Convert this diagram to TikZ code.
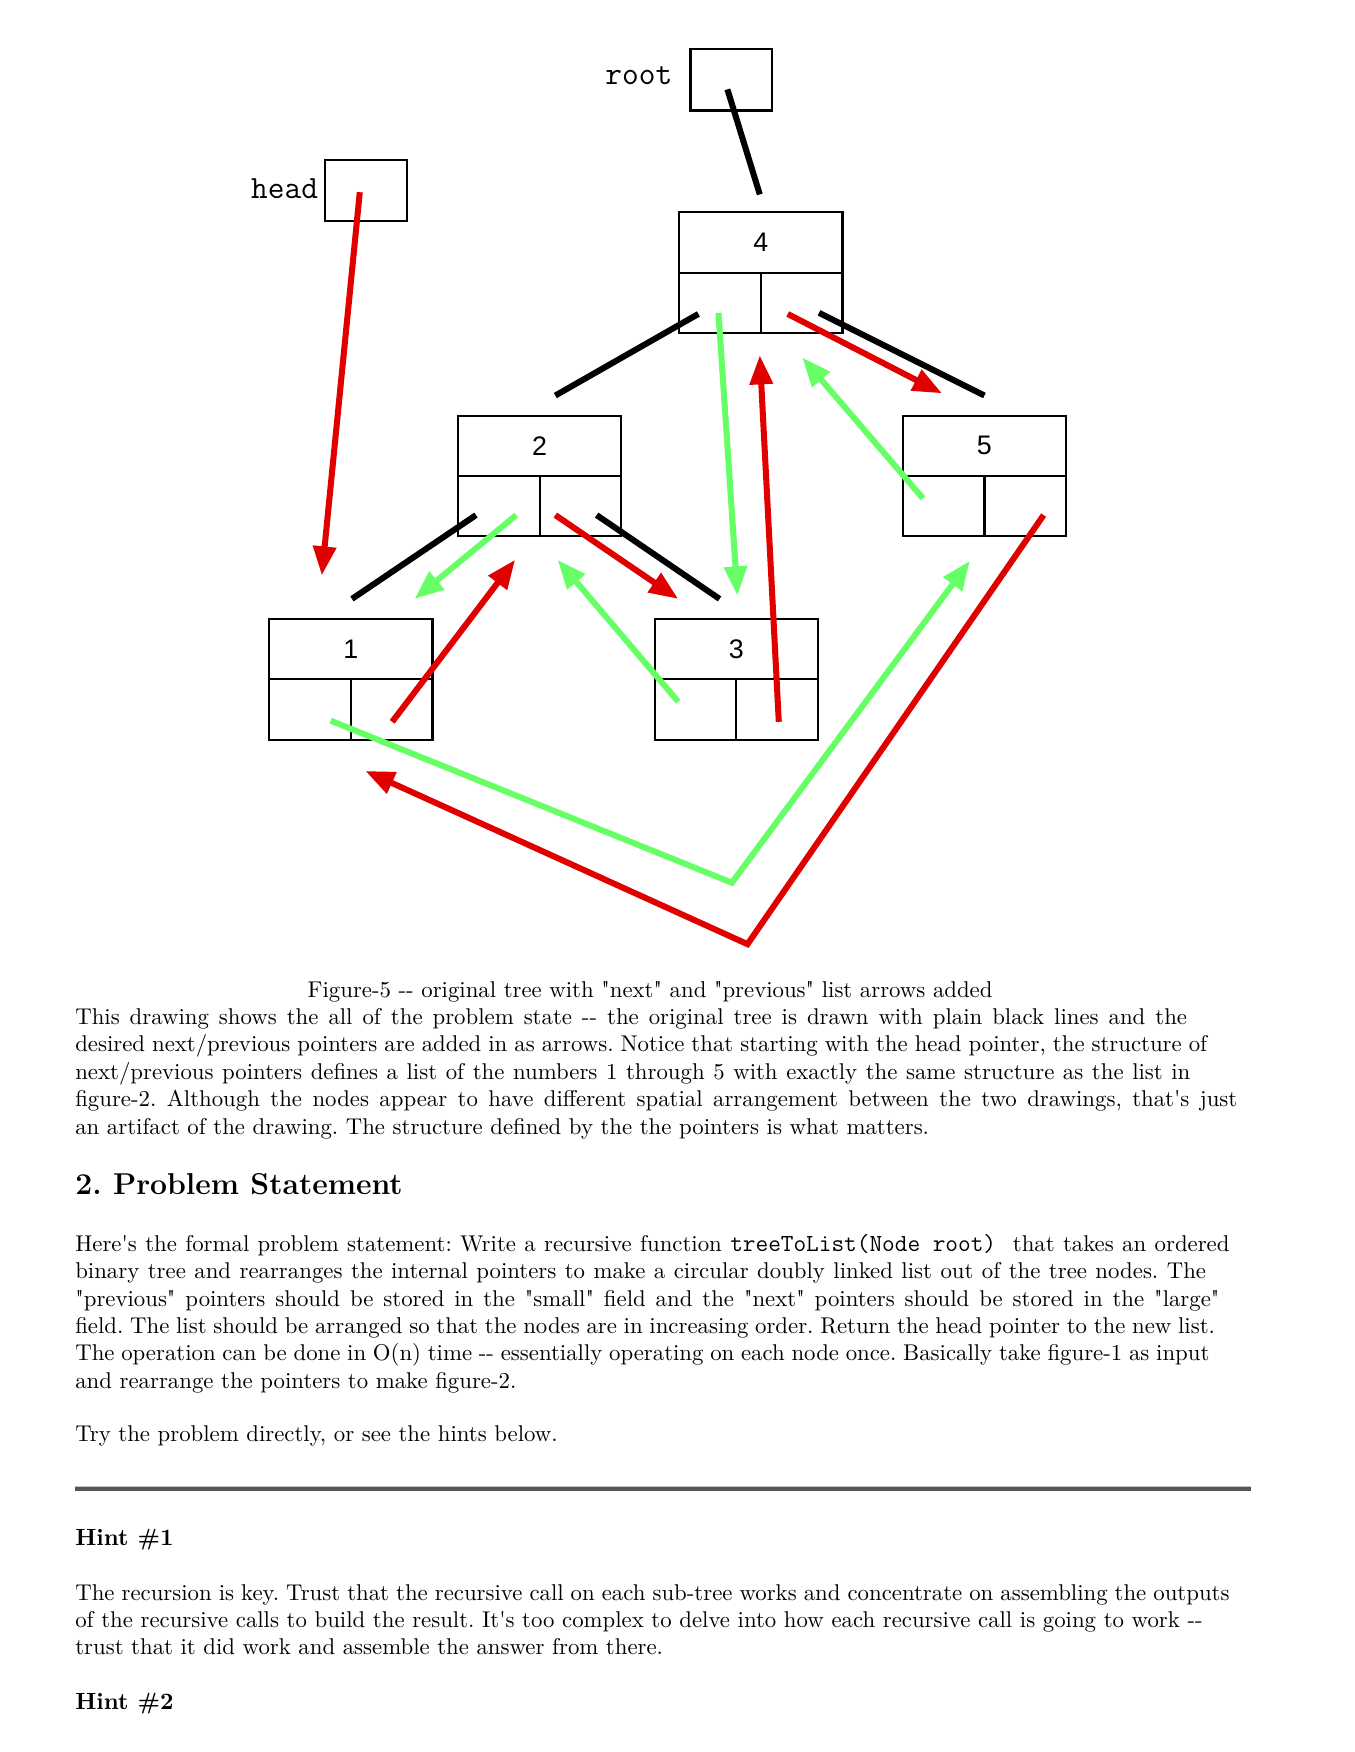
\documentclass[tikz,border=0pt]{standalone}
\usepackage{fontspec}
\setmainfont{Latin Modern Roman}[Ligatures=TeXOff]
\newfontfamily\digitfont{Liberation Sans}
\usetikzlibrary{arrows.meta}
\definecolor{ptrred}{RGB}{224,0,0}
\definecolor{ptrgreen}{RGB}{102,255,102}
\definecolor{rulegray}{RGB}{85,85,85}
\newcommand\treenode[4]{%
  \node[topcell] (#1) at ({#2+73},{#3+27}) {#4};
  \node[cell] (#1l) at ({#2+36.5},{#3+81}) {};
  \node[cell] (#1r) at ({#2+109.5},{#3+81}) {};
}
\newcommand\fitline[2]{\makebox[#1pt][s]{#2}}
\begin{document}
\frenchspacing
\begin{tikzpicture}[x=0.5pt,y=-0.5pt,
  topcell/.style={draw,line width=1pt,minimum width=73pt,minimum height=27pt,inner sep=0pt,font=\digitfont\fontsize{12}{14}\selectfont},
  cell/.style={draw,line width=1pt,minimum width=36.5pt,minimum height=27pt,inner sep=0pt},
  ptrbox/.style={draw,line width=1pt,minimum width=36.5pt,minimum height=27.5pt,inner sep=0pt},
  ptrlabel/.style={font=\ttfamily\fontsize{14.5}{16}\selectfont,inner sep=0pt,anchor=east},
  treeedge/.style={line width=2.7pt,black},
  redptr/.style={line width=2.7pt,ptrred,-{Triangle[length=13pt,width=10pt]}},
  greenptr/.style={line width=2.7pt,ptrgreen,-{Triangle[length=13pt,width=10pt]}},
  bodytext/.style={anchor=base west,inner sep=0pt,font=\fontsize{10.2}{12}\selectfont},
  headtext/.style={anchor=base west,inner sep=0pt,font=\fontsize{13.5}{16}\selectfont\bfseries},
  hinttext/.style={anchor=base west,inner sep=0pt,font=\fontsize{10.5}{13}\selectfont\bfseries}
]
\useasboundingbox (0,0) rectangle (1212,1568);

% pointer boxes
\node[ptrbox] (root) at (654.5,71.5) {};
\node[ptrlabel] (rootlbl) at (602,68) {root};
\node[ptrbox] (head) at (327.5,170.5) {};
\node[ptrlabel] (headlbl) at (285,169) {head};

% tree nodes
\treenode{n4}{608}{190}{4}
\treenode{n2}{410}{372}{2}
\treenode{n5}{808}{372}{5}
\treenode{n1}{241}{554}{1}
\treenode{n3}{586}{554}{3}

% connector end points
\coordinate (rootS) at (651,80);  \coordinate (rootE) at (680,174);
\coordinate (headS) at (322,172); \coordinate (headE) at (288,515);
\coordinate (b42S) at (625,281);  \coordinate (b42E) at (497,354);
\coordinate (b45S) at (733,280);  \coordinate (b45E) at (881,354);
\coordinate (r45S) at (705,281);  \coordinate (r45E) at (843,352);
\coordinate (g43S) at (643,280);  \coordinate (g43E) at (660,533);
\coordinate (r34S) at (697,646);  \coordinate (r34E) at (680,318);
\coordinate (g54S) at (826,446);  \coordinate (g54E) at (718,320);
\coordinate (b21S) at (426,461);  \coordinate (b21E) at (315,536);
\coordinate (g21S) at (462,461);  \coordinate (g21E) at (371,536);
\coordinate (r23S) at (497,461);  \coordinate (r23E) at (607,536);
\coordinate (b23S) at (534,461);  \coordinate (b23E) at (644,536);
\coordinate (r12S) at (351,646);  \coordinate (r12E) at (461,501);
\coordinate (g32S) at (607,628);  \coordinate (g32E) at (499,501);
\coordinate (g15S) at (296,645);  \coordinate (g15M) at (655,790); \coordinate (g15E) at (868,502);
\coordinate (r51S) at (934,461);  \coordinate (r51M) at (669,845); \coordinate (r51E) at (327,690);

% tree edges
\draw[treeedge] (rootS) -- (rootE);
\draw[treeedge] (b42S) -- (b42E);
\draw[treeedge] (b45S) -- (b45E);
\draw[treeedge] (b21S) -- (b21E);
\draw[treeedge] (b23S) -- (b23E);

% list pointers
\draw[redptr] (headS) -- (headE);
\draw[redptr] (r45S) -- (r45E);
\draw[greenptr] (g43S) -- (g43E);
\draw[redptr] (r34S) -- (r34E);
\draw[greenptr] (g54S) -- (g54E);
\draw[greenptr] (g21S) -- (g21E);
\draw[redptr] (r23S) -- (r23E);
\draw[redptr] (r12S) -- (r12E);
\draw[greenptr] (g32S) -- (g32E);
\draw[greenptr] (g15S) -- (g15M) -- (g15E);
\draw[redptr] (r51S) -- (r51M) -- (r51E);

% caption and text
\node[bodytext] (cap) at (275,893) {Figure-5 -- original tree with "next" and "previous" list arrows added};
\node[bodytext] (p1a) at (67,917) {\fitline{497.5}{This drawing shows the all of the problem state -- the original tree is drawn with plain black lines and the}};
\node[bodytext] (p1b) at (67,941.5) {\fitline{506.5}{desired next/previous pointers are added in as arrows. Notice that starting with the head pointer, the structure of}};
\node[bodytext] (p1c) at (67,966) {\fitline{499}{next/previous pointers defines a list of the numbers 1 through 5 with exactly the same structure as the list in}};
\node[bodytext] (p1d) at (67,990.5) {\fitline{520}{figure-2. Although the nodes appear to have different spatial arrangement between the two drawings, that's just}};
\node[bodytext] (p1e) at (67,1015) {an artifact of the drawing. The structure defined by the the pointers is what matters.};

\node[headtext] (h2) at (67,1069) {2. Problem Statement};

\node[bodytext] (p2a) at (67,1120) {\fitline{516.5}{Here's the formal problem statement: Write a recursive function {\ttfamily\fontsize{11}{12}\selectfont treeToList(Node~root)}~~that takes an ordered}};
\node[bodytext] (p2b) at (67,1144.5) {\fitline{506}{binary tree and rearranges the internal pointers to make a circular doubly linked list out of the tree nodes. The}};
\node[bodytext] (p2c) at (67,1169) {\fitline{512}{"previous" pointers should be stored in the "small" field and the "next" pointers should be stored in the "large"}};
\node[bodytext] (p2d) at (67,1193.5) {\fitline{510}{field. The list should be arranged so that the nodes are in increasing order. Return the head pointer to the new list.}};
\node[bodytext] (p2e) at (67,1218) {\fitline{507.5}{The operation can be done in O(n) time -- essentially operating on each node once. Basically take figure-1 as input}};
\node[bodytext] (p2f) at (67,1242.5) {and rearrange the pointers to make figure-2.};

\node[bodytext] (try) at (67,1290) {Try the problem directly, or see the hints below.};

% horizontal rule
\fill[rulegray] (67,1330.5) rectangle (1120,1334.5);
\draw[gray!45,line width=0.5pt] (67,1330.5) -- (1120,1330.5);

\node[hinttext] (hint1) at (67,1383) {Hint \#1};
\node[bodytext] (h1a) at (67,1432) {\fitline{516.5}{The recursion is key. Trust that the recursive call on each sub-tree works and concentrate on assembling the outputs}};
\node[bodytext] (h1b) at (67,1456.5) {\fitline{504.5}{of the recursive calls to build the result. It's too complex to delve into how each recursive call is going to work --}};
\node[bodytext] (h1c) at (67,1481) {trust that it did work and assemble the answer from there.};
\node[hinttext] (hint2) at (67,1530) {Hint \#2};
\end{tikzpicture}
\end{document}
